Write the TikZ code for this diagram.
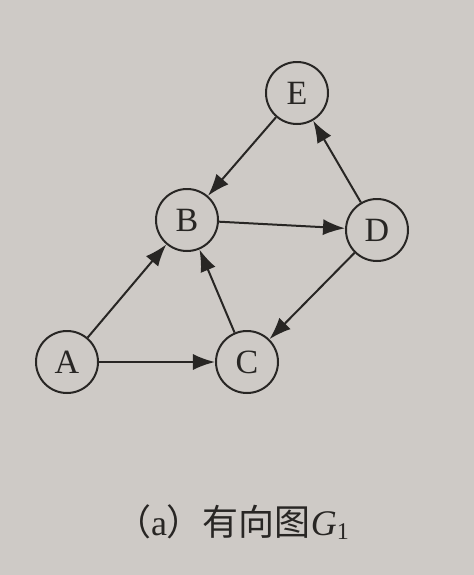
\documentclass[tikz,border=0pt]{standalone}
\usepackage{fontspec}
\setmainfont{Liberation Serif}
\newfontfamily\cjk{Noto Sans CJK SC}
\usetikzlibrary{arrows.meta,positioning}
\definecolor{paper}{RGB}{206,202,198}
\definecolor{ink}{RGB}{40,38,36}

\begin{document}
\begin{tikzpicture}[x=0.5pt,y=-0.5pt,
	vertexb/.style={
	  draw=ink,
	  circle,
	  line width=1pt,
	  minimum size=31pt,
	  inner sep=0pt,
	  text=ink,
	  font=\fontsize{17}{17}\selectfont
	},
	arcb/.style={
	  draw=ink,
	  line width=1pt,
	  -{Latex[length=11pt,width=8pt]}
	},
	captionb/.style={
	  text=ink,
	  font=\fontsize{18}{18}\selectfont
	}]

	\fill[paper] (0,0) rectangle (474,575);
	\useasboundingbox (0,0) rectangle (474,575);

	\node[vertexb] (E) at (297,93) {E};
	\node[vertexb] (B) at (187,220) {B};
	\node[vertexb] (D) at (377,230) {D};
	\node[vertexb] (A) at (67,362) {A};
	\node[vertexb] (C) at (247,362) {C};

	\draw[arcb] (E) -- (B);
	\draw[arcb] (B) -- (D);
	\draw[arcb] (D) -- (E);
	\draw[arcb] (D) -- (C);
	\draw[arcb] (C) -- (B);
	\draw[arcb] (A) -- (B);
	\draw[arcb] (A) -- (C);

	\node[captionb] (Caption) at (232,522) {{\cjk （}a{\cjk ）}{\cjk 有向图}\textit{G}\raisebox{-0.25ex}{\fontsize{12}{12}\selectfont 1}};
	\end{tikzpicture}
\end{document}
